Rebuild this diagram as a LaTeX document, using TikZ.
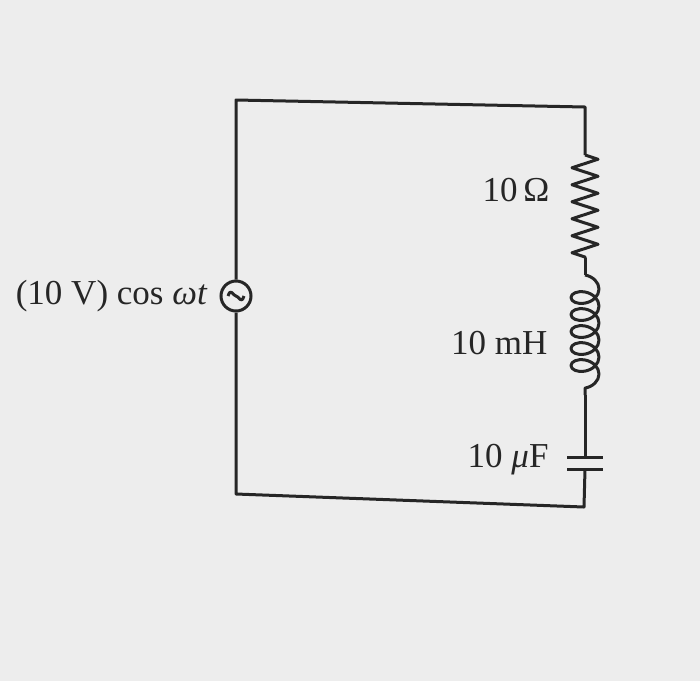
\documentclass[tikz,border=0pt]{standalone}
\usepackage{fontspec}
\setmainfont{Liberation Serif}
\usetikzlibrary{decorations.pathmorphing,decorations.pathreplacing}
\begin{document}
\begin{tikzpicture}[x=1pt,y=-1pt,
  wire/.style={line width=3pt,color=black!85,line join=round},
  lbl/.style={font=\fontsize{35}{38}\selectfont,text=black!85}]
\fill[black!7] (0,0) rectangle (700,681);
\useasboundingbox (0,0) rectangle (700,681);
\coordinate (tl) at (236,100);
\coordinate (tr) at (585,107);
\coordinate (br) at (584,507);
\coordinate (bl) at (236,494);
\node[circle,draw,line width=3pt,draw=black!85,minimum size=30pt,inner sep=0pt] (src) at (236,296) {};
\draw[wire] (src.center) ++(-8,0) .. controls +(3,-9) and +(-3,0) .. ++(8,0) .. controls +(3,0) and +(-3,9) .. ++(8,0);
\coordinate (r1) at (585,155);
\coordinate (r2) at (585,258);
\coordinate (l1) at (585,275);
\coordinate (l2) at (585,395);
\coordinate (c1) at (585,457);
\coordinate (c2) at (585,469);
\draw[wire] (src.north) -- (tl) -- (tr) -- (r1);
\draw[wire,decoration={zigzag,segment length=17pt,amplitude=13pt},decorate] (r1) -- (r2);
\draw[wire] (r2) -- (l1);
\draw[wire,decoration={coil,segment length=17pt,amplitude=14pt,aspect=0.7},decorate] (l1) -- (l2);
\draw[wire] (l2) -- (c1);
\draw[wire] (567,457) -- (603,457);
\draw[wire] (567,469) -- (603,469);
\draw[wire] (c2) -- (br) -- (bl) -- (src.south);
\node[lbl,anchor=east] (lr) at (553,190) {10\,Ω};
\node[lbl,anchor=east] (ll) at (551,343) {10 mH};
\node[lbl,anchor=east] (lc) at (552,460) {10 \textit{μ}F};
\node[lbl,anchor=east] (ls) at (211,296) {(10 V) cos \textit{ωt}};
\end{tikzpicture}
\end{document}
